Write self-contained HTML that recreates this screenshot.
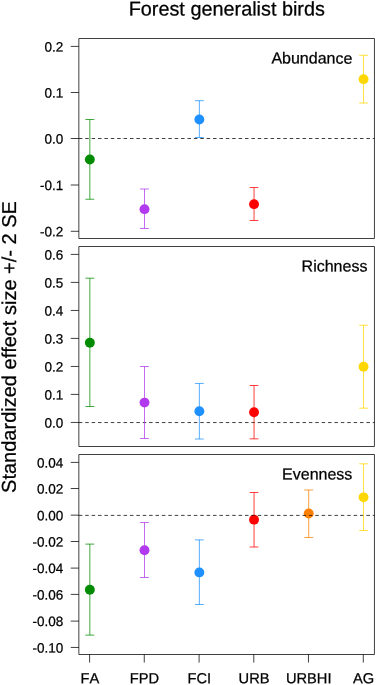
<!DOCTYPE html>
<html><head><meta charset="utf-8"><title>Forest generalist birds</title>
<style>html,body{margin:0;padding:0;background:#fff}svg{display:block}text{font-family:"Liberation Sans",Arial,Helvetica,sans-serif;fill:#000;font-kerning:none;stroke:#000;stroke-width:0.25px}</style></head><body>
<svg width="376" height="685" viewBox="0 0 376 685">
<rect width="376" height="685" fill="#fff"/>
<text x="226.8" y="15.5" font-size="19.85" text-anchor="middle" transform="rotate(0.03 226.8 15.5)">Forest generalist birds</text>
<text transform="translate(15.9,347) rotate(-89.97)" font-size="20" text-anchor="middle">Standardized effect size +/- 2 SE</text>
<g>
<circle cx="89.85" cy="159.45" r="4.95" fill="#008B00"/>
<circle cx="144.5" cy="209.15" r="4.95" fill="#B23AEE"/>
<circle cx="199.35" cy="119.45" r="4.95" fill="#1E90FF"/>
<circle cx="254.05" cy="204.15" r="4.95" fill="#FF0000"/>
<circle cx="363.55" cy="79.15" r="4.95" fill="#FFD700"/>
<line x1="78.85" x2="374.45" y1="138.5" y2="138.5" stroke="#000" stroke-width="0.75" stroke-dasharray="3.5 2.89"/>
<path d="M89.85 119.5V199.25M85.45 119.5H94.25M85.45 199.25H94.25" stroke="#008B00" stroke-width="0.75" fill="none"/>
<path d="M144.5 189.0V228.5M140.10 189.0H148.90M140.10 228.5H148.90" stroke="#B23AEE" stroke-width="0.75" fill="none"/>
<path d="M199.35 100.7V137.5M194.95 100.7H203.75M194.95 137.5H203.75" stroke="#1E90FF" stroke-width="0.75" fill="none"/>
<path d="M254.05 187.5V220.5M249.65 187.5H258.45M249.65 220.5H258.45" stroke="#FF0000" stroke-width="0.75" fill="none"/>
<path d="M363.55 55.3V103.0M359.15 55.3H367.95M359.15 103.0H367.95" stroke="#FFD700" stroke-width="0.75" fill="none"/>
<rect x="78.85" y="38.5" width="295.60" height="200.0" fill="none" stroke="#000" stroke-width="0.75" stroke-linejoin="round"/>
<line x1="70.75" x2="78.85" y1="46.4" y2="46.4" stroke="#000" stroke-width="0.75"/>
<text x="63.2" y="51.40" font-size="13.5" text-anchor="end" transform="rotate(0.03 63.2 51.40)">0.2</text>
<line x1="70.75" x2="78.85" y1="92.5" y2="92.5" stroke="#000" stroke-width="0.75"/>
<text x="63.2" y="97.50" font-size="13.5" text-anchor="end" transform="rotate(0.03 63.2 97.50)">0.1</text>
<line x1="70.75" x2="78.85" y1="138.5" y2="138.5" stroke="#000" stroke-width="0.75"/>
<text x="63.2" y="143.50" font-size="13.5" text-anchor="end" transform="rotate(0.03 63.2 143.50)">0.0</text>
<line x1="70.75" x2="78.85" y1="185.0" y2="185.0" stroke="#000" stroke-width="0.75"/>
<text x="63.2" y="190.00" font-size="13.5" text-anchor="end" transform="rotate(0.03 63.2 190.00)">-0.1</text>
<line x1="70.75" x2="78.85" y1="231.3" y2="231.3" stroke="#000" stroke-width="0.75"/>
<text x="63.2" y="236.30" font-size="13.5" text-anchor="end" transform="rotate(0.03 63.2 236.30)">-0.2</text>
<text x="271.4" y="63.6" font-size="16" transform="rotate(0.03 271.4 63.6)">Abundance</text>
</g>
<g>
<circle cx="89.85" cy="342.8" r="4.95" fill="#008B00"/>
<circle cx="144.5" cy="402.6" r="4.95" fill="#B23AEE"/>
<circle cx="199.35" cy="411.2" r="4.95" fill="#1E90FF"/>
<circle cx="254.05" cy="412.2" r="4.95" fill="#FF0000"/>
<circle cx="363.55" cy="366.8" r="4.95" fill="#FFD700"/>
<line x1="78.85" x2="374.45" y1="422.55" y2="422.55" stroke="#000" stroke-width="0.75" stroke-dasharray="3.5 2.89"/>
<path d="M89.85 278.2V406.5M85.45 278.2H94.25M85.45 406.5H94.25" stroke="#008B00" stroke-width="0.75" fill="none"/>
<path d="M144.5 366.5V438.5M140.10 366.5H148.90M140.10 438.5H148.90" stroke="#B23AEE" stroke-width="0.75" fill="none"/>
<path d="M199.35 383.45V439.0M194.95 383.45H203.75M194.95 439.0H203.75" stroke="#1E90FF" stroke-width="0.75" fill="none"/>
<path d="M254.05 385.5V438.85M249.65 385.5H258.45M249.65 438.85H258.45" stroke="#FF0000" stroke-width="0.75" fill="none"/>
<path d="M363.55 325.2V408.2M359.15 325.2H367.95M359.15 408.2H367.95" stroke="#FFD700" stroke-width="0.75" fill="none"/>
<rect x="78.85" y="246.5" width="295.60" height="200.0" fill="none" stroke="#000" stroke-width="0.75" stroke-linejoin="round"/>
<line x1="70.75" x2="78.85" y1="254.4" y2="254.4" stroke="#000" stroke-width="0.75"/>
<text x="63.2" y="259.40" font-size="13.5" text-anchor="end" transform="rotate(0.03 63.2 259.40)">0.6</text>
<line x1="70.75" x2="78.85" y1="282.4" y2="282.4" stroke="#000" stroke-width="0.75"/>
<text x="63.2" y="287.40" font-size="13.5" text-anchor="end" transform="rotate(0.03 63.2 287.40)">0.5</text>
<line x1="70.75" x2="78.85" y1="310.45" y2="310.45" stroke="#000" stroke-width="0.75"/>
<text x="63.2" y="315.45" font-size="13.5" text-anchor="end" transform="rotate(0.03 63.2 315.45)">0.4</text>
<line x1="70.75" x2="78.85" y1="338.4" y2="338.4" stroke="#000" stroke-width="0.75"/>
<text x="63.2" y="343.40" font-size="13.5" text-anchor="end" transform="rotate(0.03 63.2 343.40)">0.3</text>
<line x1="70.75" x2="78.85" y1="366.45" y2="366.45" stroke="#000" stroke-width="0.75"/>
<text x="63.2" y="371.45" font-size="13.5" text-anchor="end" transform="rotate(0.03 63.2 371.45)">0.2</text>
<line x1="70.75" x2="78.85" y1="394.4" y2="394.4" stroke="#000" stroke-width="0.75"/>
<text x="63.2" y="399.40" font-size="13.5" text-anchor="end" transform="rotate(0.03 63.2 399.40)">0.1</text>
<line x1="70.75" x2="78.85" y1="422.45" y2="422.45" stroke="#000" stroke-width="0.75"/>
<text x="63.2" y="427.45" font-size="13.5" text-anchor="end" transform="rotate(0.03 63.2 427.45)">0.0</text>
<text x="301.6" y="271.5" font-size="16" transform="rotate(0.03 301.6 271.5)">Richness</text>
</g>
<g>
<circle cx="89.85" cy="589.7" r="4.95" fill="#008B00"/>
<circle cx="144.5" cy="550.2" r="4.95" fill="#B23AEE"/>
<circle cx="199.35" cy="572.4" r="4.95" fill="#1E90FF"/>
<circle cx="254.05" cy="519.65" r="4.95" fill="#FF0000"/>
<circle cx="308.7" cy="513.55" r="4.95" fill="#FF7F00"/>
<circle cx="363.55" cy="497.35" r="4.95" fill="#FFD700"/>
<line x1="78.85" x2="374.45" y1="515.4" y2="515.4" stroke="#000" stroke-width="0.75" stroke-dasharray="3.5 2.89"/>
<path d="M89.85 544.1V635.1M85.45 544.1H94.25M85.45 635.1H94.25" stroke="#008B00" stroke-width="0.75" fill="none"/>
<path d="M144.5 522.5V577.5M140.10 522.5H148.90M140.10 577.5H148.90" stroke="#B23AEE" stroke-width="0.75" fill="none"/>
<path d="M199.35 539.9V604.5M194.95 539.9H203.75M194.95 604.5H203.75" stroke="#1E90FF" stroke-width="0.75" fill="none"/>
<path d="M254.05 492.5V547.0M249.65 492.5H258.45M249.65 547.0H258.45" stroke="#FF0000" stroke-width="0.75" fill="none"/>
<path d="M308.7 490.0V537.5M304.30 490.0H313.10M304.30 537.5H313.10" stroke="#FF7F00" stroke-width="0.75" fill="none"/>
<path d="M363.55 463.8V530.5M359.15 463.8H367.95M359.15 530.5H367.95" stroke="#FFD700" stroke-width="0.75" fill="none"/>
<rect x="78.85" y="454.5" width="295.60" height="200.0" fill="none" stroke="#000" stroke-width="0.75" stroke-linejoin="round"/>
<line x1="70.75" x2="78.85" y1="462.4" y2="462.4" stroke="#000" stroke-width="0.75"/>
<text x="63.2" y="467.40" font-size="13.5" text-anchor="end" transform="rotate(0.03 63.2 467.40)">0.04</text>
<line x1="70.75" x2="78.85" y1="488.5" y2="488.5" stroke="#000" stroke-width="0.75"/>
<text x="63.2" y="493.50" font-size="13.5" text-anchor="end" transform="rotate(0.03 63.2 493.50)">0.02</text>
<line x1="70.75" x2="78.85" y1="515.15" y2="515.15" stroke="#000" stroke-width="0.75"/>
<text x="63.2" y="520.15" font-size="13.5" text-anchor="end" transform="rotate(0.03 63.2 520.15)">0.00</text>
<line x1="70.75" x2="78.85" y1="541.5" y2="541.5" stroke="#000" stroke-width="0.75"/>
<text x="63.2" y="546.50" font-size="13.5" text-anchor="end" transform="rotate(0.03 63.2 546.50)">-0.02</text>
<line x1="70.75" x2="78.85" y1="568.1" y2="568.1" stroke="#000" stroke-width="0.75"/>
<text x="63.2" y="573.10" font-size="13.5" text-anchor="end" transform="rotate(0.03 63.2 573.10)">-0.04</text>
<line x1="70.75" x2="78.85" y1="594.4" y2="594.4" stroke="#000" stroke-width="0.75"/>
<text x="63.2" y="599.40" font-size="13.5" text-anchor="end" transform="rotate(0.03 63.2 599.40)">-0.06</text>
<line x1="70.75" x2="78.85" y1="621.1" y2="621.1" stroke="#000" stroke-width="0.75"/>
<text x="63.2" y="626.10" font-size="13.5" text-anchor="end" transform="rotate(0.03 63.2 626.10)">-0.08</text>
<line x1="70.75" x2="78.85" y1="647.45" y2="647.45" stroke="#000" stroke-width="0.75"/>
<text x="63.2" y="652.45" font-size="13.5" text-anchor="end" transform="rotate(0.03 63.2 652.45)">-0.10</text>
<text x="282.1" y="479.4" font-size="16" transform="rotate(0.03 282.1 479.4)">Evenness</text>
</g>
<line x1="89.60" x2="89.60" y1="654.5" y2="662.6" stroke="#000" stroke-width="0.75"/>
<text x="89.85" y="683.2" font-size="14.67" text-anchor="middle" transform="rotate(0.03 89.85 683.2)">FA</text>
<line x1="144.25" x2="144.25" y1="654.5" y2="662.6" stroke="#000" stroke-width="0.75"/>
<text x="144.5" y="683.2" font-size="14.67" text-anchor="middle" transform="rotate(0.03 144.5 683.2)">FPD</text>
<line x1="199.10" x2="199.10" y1="654.5" y2="662.6" stroke="#000" stroke-width="0.75"/>
<text x="199.35" y="683.2" font-size="14.67" text-anchor="middle" transform="rotate(0.03 199.35 683.2)">FCI</text>
<line x1="253.80" x2="253.80" y1="654.5" y2="662.6" stroke="#000" stroke-width="0.75"/>
<text x="254.05" y="683.2" font-size="14.67" text-anchor="middle" transform="rotate(0.03 254.05 683.2)">URB</text>
<line x1="308.45" x2="308.45" y1="654.5" y2="662.6" stroke="#000" stroke-width="0.75"/>
<text x="308.7" y="683.2" font-size="14.67" text-anchor="middle" transform="rotate(0.03 308.7 683.2)">URBHI</text>
<line x1="363.30" x2="363.30" y1="654.5" y2="662.6" stroke="#000" stroke-width="0.75"/>
<text x="363.55" y="683.2" font-size="14.67" text-anchor="middle" transform="rotate(0.03 363.55 683.2)">AG</text>
</svg></body></html>
